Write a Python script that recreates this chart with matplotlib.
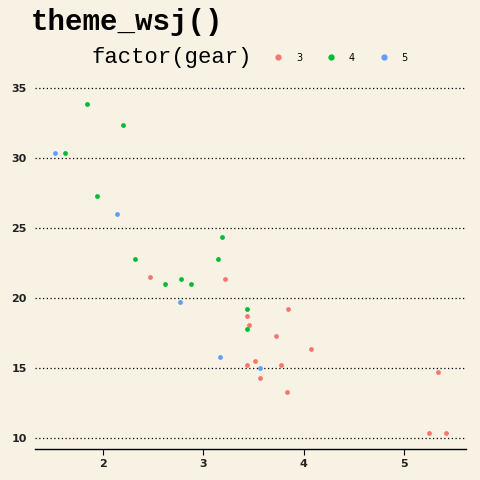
import matplotlib
matplotlib.use("Agg")
import matplotlib.pyplot as plt
from matplotlib.lines import Line2D
from matplotlib.offsetbox import HPacker

wt = [2.620, 2.875, 2.320, 3.215, 3.440, 3.460, 3.570, 3.190, 3.150, 3.440, 3.440,
      4.070, 3.730, 3.780, 5.250, 5.424, 5.345, 2.200, 1.615, 1.835, 2.465, 3.520,
      3.435, 3.840, 3.845, 1.935, 2.140, 1.513, 3.170, 2.770, 3.570, 2.780]
mpg = [21.0, 21.0, 22.8, 21.4, 18.7, 18.1, 14.3, 24.4, 22.8, 19.2, 17.8,
       16.4, 17.3, 15.2, 10.4, 10.4, 14.7, 32.4, 30.4, 33.9, 21.5, 15.5,
       15.2, 13.3, 19.2, 27.3, 26.0, 30.4, 15.8, 19.7, 15.0, 21.4]
gear = [4, 4, 4, 3, 3, 3, 3, 4, 4, 4, 4,
        3, 3, 3, 3, 3, 3, 4, 4, 4, 3, 3,
        3, 3, 3, 4, 5, 5, 5, 5, 5, 4]
gear_levels = [3, 4, 5]
gear_colors = {3: "#F8766D", 4: "#00BA38", 5: "#619CFF"}

bg = "#f8f2e4"
fig = plt.figure(figsize=(4.8, 4.8), dpi=100, facecolor=bg)
ax = fig.add_axes([0.073, 0.0646, 0.897, 0.754], facecolor=bg)

for g in gear_levels:
    xs = [w for w, gg in zip(wt, gear) if gg == g]
    ys = [m for m, gg in zip(mpg, gear) if gg == g]
    ax.scatter(xs, ys, s=12, color=gear_colors[g], linewidths=0, zorder=3)

ax.set_xlim(1.317, 5.62)
ax.set_ylim(9.225, 35.075)
ax.set_xticks([2, 3, 4, 5])
ax.set_yticks([10, 15, 20, 25, 30, 35])
ax.yaxis.grid(True, color="black", linestyle=(0, (1, 2)), linewidth=0.9)
for s in ["top", "right", "left"]:
    ax.spines[s].set_visible(False)
ax.spines["bottom"].set_linewidth(1.0)
ax.tick_params(axis="y", length=0, labelsize=8, pad=6)
ax.tick_params(axis="x", length=4, labelsize=8, direction="out")
for lab in ax.get_xticklabels() + ax.get_yticklabels():
    lab.set_fontweight("bold")
    lab.set_color("#222222")

fig.text(0.065, 0.955, "theme_wsj()", fontsize=21, fontweight="bold",
         family="Liberation Mono", va="center")

handles = [Line2D([], [], marker="o", linestyle="", markersize=3.5,
                  color=gear_colors[g]) for g in gear_levels]
leg = fig.legend(handles, [str(g) for g in gear_levels], loc="center",
                 bbox_to_anchor=(0.52, 0.88), ncol=3, frameon=False,
                 fontsize=7, handletextpad=0.8, columnspacing=2.0,
                 title="factor(gear)")
leg.get_title().set_fontsize(16)
leg.get_title().set_family("Liberation Mono")
# put title on same row as entries
box = leg._legend_box
box._children = [HPacker(children=box._children, pad=0, sep=12, align="center")]

fig.savefig("out.png", dpi=100, facecolor=bg)
